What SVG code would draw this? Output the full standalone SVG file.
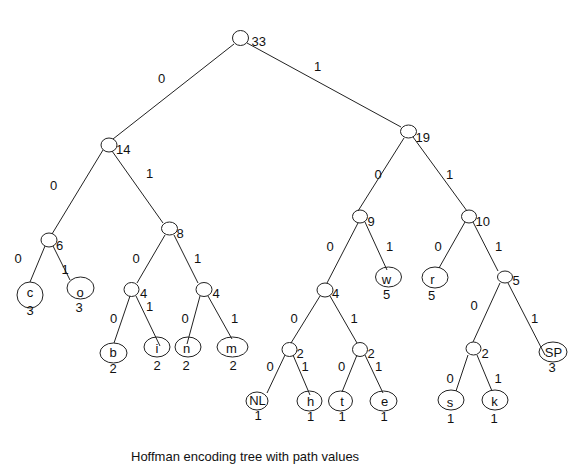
<svg xmlns="http://www.w3.org/2000/svg" width="582" height="472" viewBox="0 0 582 472">
<style>
.e{stroke:#222;stroke-width:1;fill:none}
.n{stroke:#222;stroke-width:1;fill:none}
text{font-family:"Liberation Sans",Arial,sans-serif;font-size:13px;fill:#111}
.m{text-anchor:middle}
</style>
<rect width="582" height="472" fill="#fff"/>
<g id="edges" class="e">
<line x1="234" y1="44" x2="113" y2="139"/>
<line x1="247" y1="43" x2="401" y2="127"/>
<line x1="103" y1="150" x2="52" y2="234"/>
<line x1="112" y1="151" x2="163" y2="223"/>
<line x1="45" y1="246" x2="30" y2="282"/>
<line x1="53" y1="246" x2="70" y2="280"/>
<line x1="165" y1="235" x2="137" y2="283"/>
<line x1="174" y1="235" x2="198" y2="283"/>
<line x1="130" y1="296" x2="114" y2="343"/>
<line x1="136" y1="296" x2="160" y2="346"/>
<line x1="200" y1="296" x2="187" y2="344"/>
<line x1="208" y1="296" x2="232" y2="339"/>
<line x1="404" y1="138" x2="358" y2="211"/>
<line x1="413" y1="137" x2="467" y2="211"/>
<line x1="358" y1="223" x2="327" y2="283"/>
<line x1="365" y1="222" x2="387" y2="270"/>
<line x1="465" y1="222" x2="439" y2="268"/>
<line x1="473" y1="222" x2="498" y2="271"/>
<line x1="320" y1="296" x2="291" y2="343"/>
<line x1="330" y1="296" x2="357" y2="343"/>
<line x1="285" y1="355" x2="267" y2="393"/>
<line x1="293" y1="355" x2="310" y2="395"/>
<line x1="357" y1="355" x2="342" y2="392"/>
<line x1="365" y1="355" x2="383" y2="393"/>
<line x1="500" y1="283" x2="473" y2="342"/>
<line x1="508" y1="283" x2="545" y2="355"/>
<line x1="468" y1="355" x2="456" y2="391"/>
<line x1="477" y1="355" x2="492" y2="391"/>
</g>
<g id="edge-labels" class="m">
<text x="161.5" y="83">0</text>
<text x="317.5" y="71">1</text>
<text x="53.5" y="190">0</text>
<text x="149.5" y="178">1</text>
<text x="378" y="179">0</text>
<text x="449.5" y="179">1</text>
<text x="18" y="263">0</text>
<text x="65" y="274">1</text>
<text x="136" y="263">0</text>
<text x="197.5" y="263">1</text>
<text x="330" y="251">0</text>
<text x="389.5" y="251">1</text>
<text x="438" y="251">0</text>
<text x="498.5" y="251">1</text>
<text x="113.5" y="323">0</text>
<text x="149.5" y="311">1</text>
<text x="185" y="323">0</text>
<text x="234.5" y="323">1</text>
<text x="294" y="323">0</text>
<text x="354" y="323">1</text>
<text x="474" y="310">0</text>
<text x="534.5" y="323">1</text>
<text x="270" y="371">0</text>
<text x="305" y="371">1</text>
<text x="341.5" y="371">0</text>
<text x="378.5" y="371">1</text>
<text x="450" y="383">0</text>
<text x="498" y="383">1</text>
</g>
<g id="n33"><ellipse class="n" cx="240.5" cy="38" rx="8" ry="7.5"/><text x="251.5" y="46">33</text></g>
<g id="n14"><ellipse class="n" cx="109" cy="145" rx="8" ry="7"/><text x="116" y="154">14</text></g>
<g id="n19"><ellipse class="n" cx="408.5" cy="131.5" rx="8" ry="6.5"/><text x="415.5" y="142">19</text></g>
<g id="n6"><ellipse class="n" cx="49" cy="240" rx="8" ry="7"/><text x="56" y="250">6</text></g>
<g id="n8"><ellipse class="n" cx="169.5" cy="228.5" rx="8" ry="6.5"/><text x="176.5" y="238">8</text></g>
<g id="n4a"><ellipse class="n" cx="131.5" cy="289.5" rx="7.5" ry="7"/><text x="140" y="298">4</text></g>
<g id="n4b"><ellipse class="n" cx="204" cy="289.5" rx="8" ry="7"/><text x="212.5" y="298">4</text></g>
<g id="n9"><ellipse class="n" cx="360" cy="216.5" rx="7.5" ry="6.5"/><text x="367.5" y="226">9</text></g>
<g id="n10"><ellipse class="n" cx="469" cy="216.5" rx="7.5" ry="6.5"/><text x="475.5" y="226">10</text></g>
<g id="n4c"><ellipse class="n" cx="325" cy="290" rx="8" ry="7"/><text x="332" y="298">4</text></g>
<g id="n5"><ellipse class="n" cx="505" cy="277" rx="7.5" ry="6"/><text x="512.5" y="285">5</text></g>
<g id="n2a"><ellipse class="n" cx="289.5" cy="349.5" rx="7.5" ry="7"/><text x="296.5" y="358">2</text></g>
<g id="n2b"><ellipse class="n" cx="360" cy="349.5" rx="7.5" ry="7"/><text x="367.5" y="358">2</text></g>
<g id="n2c"><ellipse class="n" cx="473.5" cy="348.5" rx="7.5" ry="6.5"/><text x="481.5" y="358">2</text></g>
<g id="leaf-c"><ellipse class="n" cx="30" cy="295" rx="13" ry="13"/><text class="m" x="30" y="297">c</text><text class="m" x="30" y="315">3</text></g>
<g id="leaf-o"><ellipse class="n" cx="80.5" cy="288" rx="13.5" ry="11"/><text class="m" x="80" y="297">o</text><text class="m" x="79" y="312">3</text></g>
<g id="leaf-b"><ellipse class="n" cx="113.5" cy="353" rx="13.5" ry="10"/><text class="m" x="113" y="357">b</text><text class="m" x="113" y="373">2</text></g>
<g id="leaf-i"><ellipse class="n" cx="157" cy="347" rx="13" ry="10"/><text class="m" x="157" y="353">i</text><text class="m" x="157" y="370">2</text></g>
<g id="leaf-n"><ellipse class="n" cx="188" cy="347" rx="13" ry="10"/><text class="m" x="186.5" y="353">n</text><text class="m" x="186" y="370">2</text></g>
<g id="leaf-m"><ellipse class="n" cx="232.5" cy="347" rx="15.5" ry="10"/><text class="m" x="231.5" y="353">m</text><text class="m" x="233" y="370">2</text></g>
<g id="leaf-w"><ellipse class="n" cx="388.5" cy="277" rx="13" ry="10"/><text class="m" x="386.5" y="284">w</text><text class="m" x="386.5" y="299">5</text></g>
<g id="leaf-r"><ellipse class="n" cx="435" cy="277.5" rx="13" ry="10.5"/><text class="m" x="432.5" y="284">r</text><text class="m" x="431.5" y="300">5</text></g>
<g id="leaf-NL"><ellipse class="n" cx="257" cy="401" rx="11" ry="9"/><text class="m" x="257.5" y="405">NL</text><text class="m" x="258" y="420">1</text></g>
<g id="leaf-h"><ellipse class="n" cx="309.5" cy="401" rx="12.5" ry="10"/><text class="m" x="310.5" y="406">h</text><text class="m" x="310.5" y="421">1</text></g>
<g id="leaf-t"><ellipse class="n" cx="340.5" cy="401" rx="12" ry="10"/><text class="m" x="342" y="406">t</text><text class="m" x="342" y="421">1</text></g>
<g id="leaf-e"><ellipse class="n" cx="383.5" cy="401" rx="13.5" ry="10"/><text class="m" x="384.5" y="406">e</text><text class="m" x="384" y="421">1</text></g>
<g id="leaf-SP"><ellipse class="n" cx="553" cy="352" rx="14" ry="10"/><text class="m" x="553.5" y="357">SP</text><text class="m" x="552" y="372">3</text></g>
<g id="leaf-s"><ellipse class="n" cx="451" cy="400" rx="13" ry="10"/><text class="m" x="450" y="407">s</text><text class="m" x="450.5" y="423">1</text></g>
<g id="leaf-k"><ellipse class="n" cx="495" cy="400" rx="13" ry="10"/><text class="m" x="494.5" y="406">k</text><text class="m" x="494" y="423">1</text></g>
<text id="caption" x="131" y="461">Hoffman encoding tree with path values</text>
</svg>
